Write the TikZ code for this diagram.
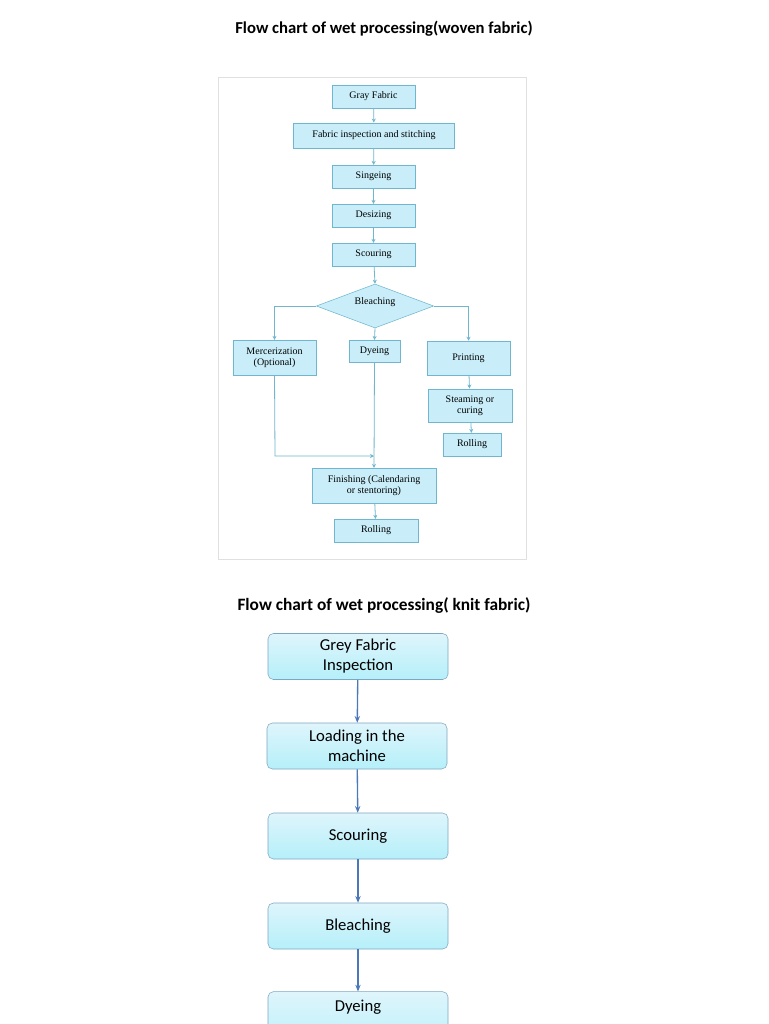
\documentclass[tikz,border=0pt]{standalone}
\usepackage{fontspec}
\setmainfont{Carlito}
\newfontfamily\serif{Liberation Serif}
\usetikzlibrary{shapes.geometric,arrows.meta}
\definecolor{boxfill}{HTML}{C9EEF9}
\definecolor{boxline}{HTML}{6FB6CE}
\definecolor{kline}{HTML}{7FA6C0}
\definecolor{arr}{HTML}{4A78B8}
\begin{document}
\begin{tikzpicture}[x=0.75pt,y=-0.75pt,
  wbox/.style={draw=boxline,fill=boxfill,inner sep=0pt,font=\serif\fontsize{7.5}{8.5}\selectfont,align=center},
  warr/.style={draw=boxline,-{Stealth[length=3pt,width=3pt]},line width=0.6pt},
  kbox/.style={draw=kline,rounded corners=4pt,top color=white!40!boxfill,bottom color=boxfill!90!cyan,minimum width=135pt,minimum height=34.5pt,font=\fontsize{12.5}{15}\selectfont,align=center,inner sep=1pt},
  karr/.style={draw=arr,-{Stealth[length=5pt,width=4pt]},line width=1pt}]
\clip (0,0) rectangle (768,1024);
\fill[white] (0,0) rectangle (768,1024);
\node[font=\bfseries\fontsize{12.5}{15}\selectfont] (t1) at (384,29) {Flow chart of wet processing(woven fabric)};
\node[font=\bfseries\fontsize{13}{15}\selectfont] (t2) at (384,606) {Flow chart of wet processing( knit fabric)};
\draw[black!12] (218,77) rectangle (526,559);
% woven
\node[wbox,minimum width=62pt,minimum height=17pt] (g) at (373.5,96.5) {Gray Fabric};
\node[wbox,minimum width=121pt,minimum height=19pt] (fi) at (374,135.5) {Fabric inspection and stitching};
\node[wbox,minimum width=62pt,minimum height=17pt] (si) at (373.5,176.5) {Singeing};
\node[wbox,minimum width=62pt,minimum height=17pt] (de) at (373.5,215.5) {Desizing};
\node[wbox,minimum width=62pt,minimum height=17pt] (sc) at (373.5,254.5) {Scouring};
\node[wbox,diamond,aspect=2.7,minimum width=88pt,minimum height=33pt] (bl) at (375,306) {};
\node[font=\serif\fontsize{7.5}{8.5}\selectfont] at (375,302) {Bleaching};
\node[wbox,minimum width=62pt,minimum height=26pt] (me) at (274.5,357.5) {Mercerization\\(Optional)};
\node[wbox,minimum width=38pt,minimum height=16.5pt,anchor=north] (dy) at (374.5,340) {Dyeing};
\node[wbox,minimum width=62pt,minimum height=25.5pt] (pr) at (468.5,358) {Printing};
\node[wbox,minimum width=63pt,minimum height=25pt] (st) at (470,405.5) {Steaming or\\curing};
\node[wbox,minimum width=43.5pt,minimum height=17pt] (r1) at (472,444.5) {Rolling};
\node[wbox,minimum width=93pt,minimum height=26pt] (fn) at (374,485.5) {Finishing (Calendaring\\or stentoring)};
\node[wbox,minimum width=63pt,minimum height=17pt] (r2) at (376,530.5) {Rolling};
\draw[warr] (g) -- (fi);
\draw[warr] (fi) -- (si);
\draw[warr] (si) -- (de);
\draw[warr] (de) -- (sc);
\draw[warr] (sc) -- (bl.north);
\draw[warr] (bl.west) -| (me.north);
\draw[warr] (bl.east) -| (pr.north);
\draw[warr] (bl.south) -- (dy.north);
\draw[warr] (pr) -- (st);
\draw[warr] (st) -- (r1);
\coordinate (mc) at (275,456);
\draw[warr] (me.south) -- (mc) -- (374,456);
\draw[warr] (dy.south) -- (fn.north);
\draw[warr] (fn) -- (r2);
% knit
\node[kbox] (k1) at (358,656.5) {Grey Fabric\\Inspection};
\node[kbox] (k2) at (357,746) {Loading in the\\machine};
\node[kbox] (k3) at (358,836) {Scouring};
\node[kbox] (k4) at (358,926) {Bleaching};
\node[kbox,minimum height=50pt] (k5) at (358,1025) {Dyeing\\[14pt]};
\draw[karr] (k1) -- (k2);
\draw[karr] (k2) -- (k3);
\draw[karr] (k3) -- (k4);
\draw[karr] (k4) -- (k5);
\end{tikzpicture}
\end{document}
